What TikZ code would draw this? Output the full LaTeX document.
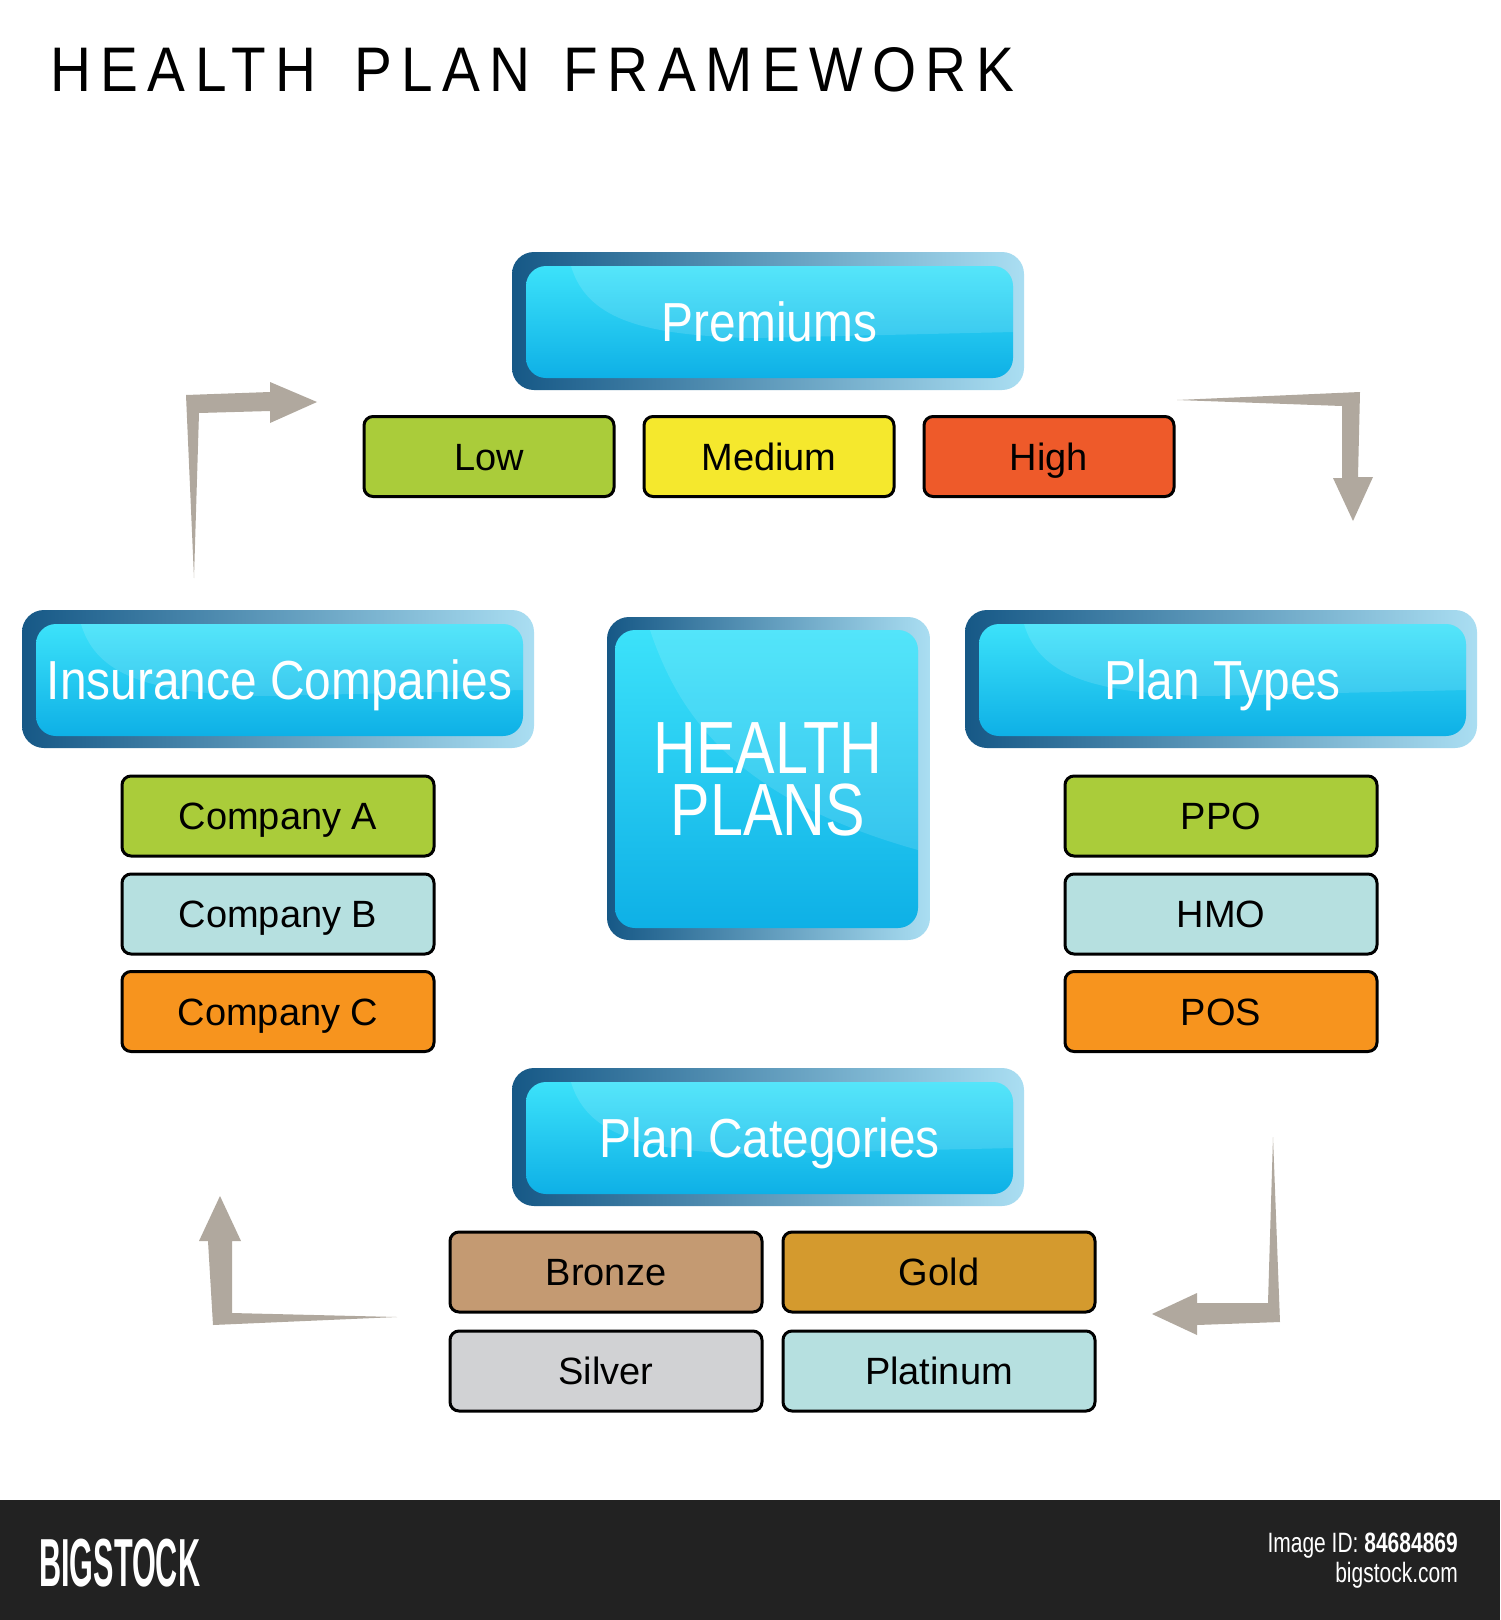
\documentclass[tikz,border=0pt]{standalone}
\usepackage{fontspec}
\setmainfont{Liberation Sans}
\newfontfamily\titlefont[LetterSpace=15,FakeStretch=0.9]{Liberation Sans}
\newfontfamily\hdrfont[FakeStretch=0.87]{Liberation Sans}
\newfontfamily\hpfont[FakeStretch=0.8]{Liberation Sans}
\newfontfamily\logofont[FakeStretch=0.45]{Liberation Sans}
\newfontfamily\footfont[FakeStretch=0.75]{Liberation Sans}
\definecolor{cgreen}{RGB}{170,204,58}
\definecolor{cyellow}{RGB}{245,232,45}
\definecolor{cred}{RGB}{238,90,42}
\definecolor{ccyan}{RGB}{182,224,224}
\definecolor{corange}{RGB}{247,148,30}
\definecolor{cbronze}{RGB}{196,154,114}
\definecolor{cgold}{RGB}{212,154,46}
\definecolor{csilver}{RGB}{209,210,212}
\definecolor{arrowc}{RGB}{176,168,158}
\definecolor{facetop}{RGB}{60,226,250}
\definecolor{facebot}{RGB}{14,176,230}
\definecolor{platel}{RGB}{22,88,134}
\definecolor{plater}{RGB}{170,222,242}
\definecolor{footbg}{RGB}{34,34,34}
\newcommand\myhilite[4]{%
  \begin{scope}
    \clip[rounded corners=20pt] (#1,#2) rectangle (#3,#4);
    \fill[white, opacity=0.13] (#1+45,#2) .. controls (#1+60,#2+50) and (#1+110,#2+70)
      .. (#1+230,#2+72) -- (#3,#2+66) -- (#3,#2) -- cycle;
  \end{scope}}
\begin{document}
\begin{tikzpicture}[x=1pt,y=-1pt,
  smallbox/.style={draw=black, line width=3pt, rounded corners=9pt, text=black,
    inner sep=0pt, minimum height=80pt, text height=27pt, text depth=0pt,
    font=\fontsize{38}{40}\selectfont},
  wbox/.style={smallbox, minimum width=250pt},
  lbox/.style={smallbox, minimum width=312pt},
  plate/.style={rounded corners=22pt, left color=platel, right color=plater},
  face/.style={rounded corners=20pt, top color=facetop, bottom color=facebot,
    text=white, inner sep=0pt, text height=39pt, text depth=0pt,
    font=\hdrfont\fontsize{55}{60}\selectfont},
  hdrface/.style={face, minimum width=487pt, minimum height=112pt},
  arrowshape/.style={fill=arrowc}
]
\useasboundingbox (0,0) rectangle (1500,1620);
\fill[white] (0,0) rectangle (1500,1620);

% title
\node[anchor=base west, inner sep=0pt, text=black] (title) at (50,91)
  {\titlefont\fontsize{63}{70}\selectfont HEALTH\hspace{12pt} PLAN\hspace{8pt} FRAMEWORK};

% Premiums
\shade[plate] (512,252) rectangle (1024,390);
\node[hdrface] (premiums) at (769.5,322) {Premiums};
\myhilite{526}{266}{1013}{378}
\node[wbox, fill=cgreen] (low) at (489,456.5) {Low};
\node[wbox, fill=cyellow] (medium) at (769,456.5) {Medium};
\node[wbox, fill=cred] (high) at (1049,456.5) {High};

% Insurance companies
\shade[plate] (22,610) rectangle (534,748);
\node[hdrface] (insurance) at (279.5,680) {Insurance Companies};
\myhilite{36}{624}{523}{736}
\node[lbox, fill=cgreen] (compa) at (278,816) {Company A};
\node[lbox, fill=ccyan] (compb) at (278,914) {Company B};
\node[lbox, fill=corange] (compc) at (278,1011.5) {Company C};

% Plan types
\shade[plate] (965,610) rectangle (1477,748);
\node[hdrface] (plantypes) at (1222.5,680) {Plan Types};
\myhilite{979}{624}{1466}{736}
\node[lbox, fill=cgreen] (ppo) at (1221,816) {PPO};
\node[lbox, fill=ccyan] (hmo) at (1221,914) {HMO};
\node[lbox, fill=corange] (pos) at (1221,1011.5) {POS};

% Health plans
\shade[plate] (607,617) rectangle (930,940);
\node[face, minimum width=303pt, minimum height=298pt] (healthplans) at (766.5,779) {};
\begin{scope}
  \clip[rounded corners=20pt] (615,630) rectangle (918,928);
  \fill[white, opacity=0.12] (650,630) .. controls (680,720) and (740,800)
    .. (918,850) -- (918,630) -- cycle;
\end{scope}
\node[anchor=center, inner sep=0pt, text=white, align=center,
  font=\hpfont\fontsize{74}{62}\selectfont] (hptext) at (768,779.5) {HEALTH\\PLANS};

% Plan categories
\shade[plate] (512,1068) rectangle (1024,1206);
\node[hdrface] (plancat) at (769.5,1138) {Plan Categories};
\myhilite{526}{1082}{1013}{1194}
\node[lbox, fill=cbronze] (bronze) at (606,1272) {Bronze};
\node[lbox, fill=cgold] (gold) at (939,1272) {Gold};
\node[lbox, fill=csilver] (silver) at (606,1371) {Silver};
\node[lbox, fill=ccyan] (platinum) at (939,1371) {Platinum};

% cycle arrows
\fill[arrowshape] (194,578) -- (186,395) -- (270,392) -- (270,382) -- (317,402)
  -- (270,423) -- (270,411) -- (199,413) -- cycle;
\fill[arrowshape] (1177,400) -- (1360,392) -- (1358,477) -- (1373,477) -- (1353,521)
  -- (1333,478) -- (1342,478) -- (1342,406) -- cycle;
\fill[arrowshape] (397,1317) -- (213,1325) -- (208,1241) -- (199,1241) -- (220,1196)
  -- (241,1241) -- (232,1241) -- (232,1313) -- cycle;
\fill[arrowshape] (1273,1137) -- (1280,1322) -- (1197,1325) -- (1197,1335) -- (1152,1314)
  -- (1197,1293) -- (1197,1303) -- (1268,1303) -- cycle;

% footer
\fill[footbg] (0,1500) rectangle (1500,1620);
\node[anchor=base west, inner sep=0pt, text=white] (logo) at (39,1586)
  {\logofont\bfseries\fontsize{68}{70}\selectfont BIGSTOCK};
\node[anchor=base east, inner sep=0pt, text=white] (imgid) at (1458,1552)
  {\footfont\fontsize{28}{30}\selectfont Image ID: \textbf{84684869}};
\node[anchor=base east, inner sep=0pt, text=white] (site) at (1458,1582)
  {\footfont\fontsize{28}{30}\selectfont bigstock.com};
\end{tikzpicture}
\end{document}
